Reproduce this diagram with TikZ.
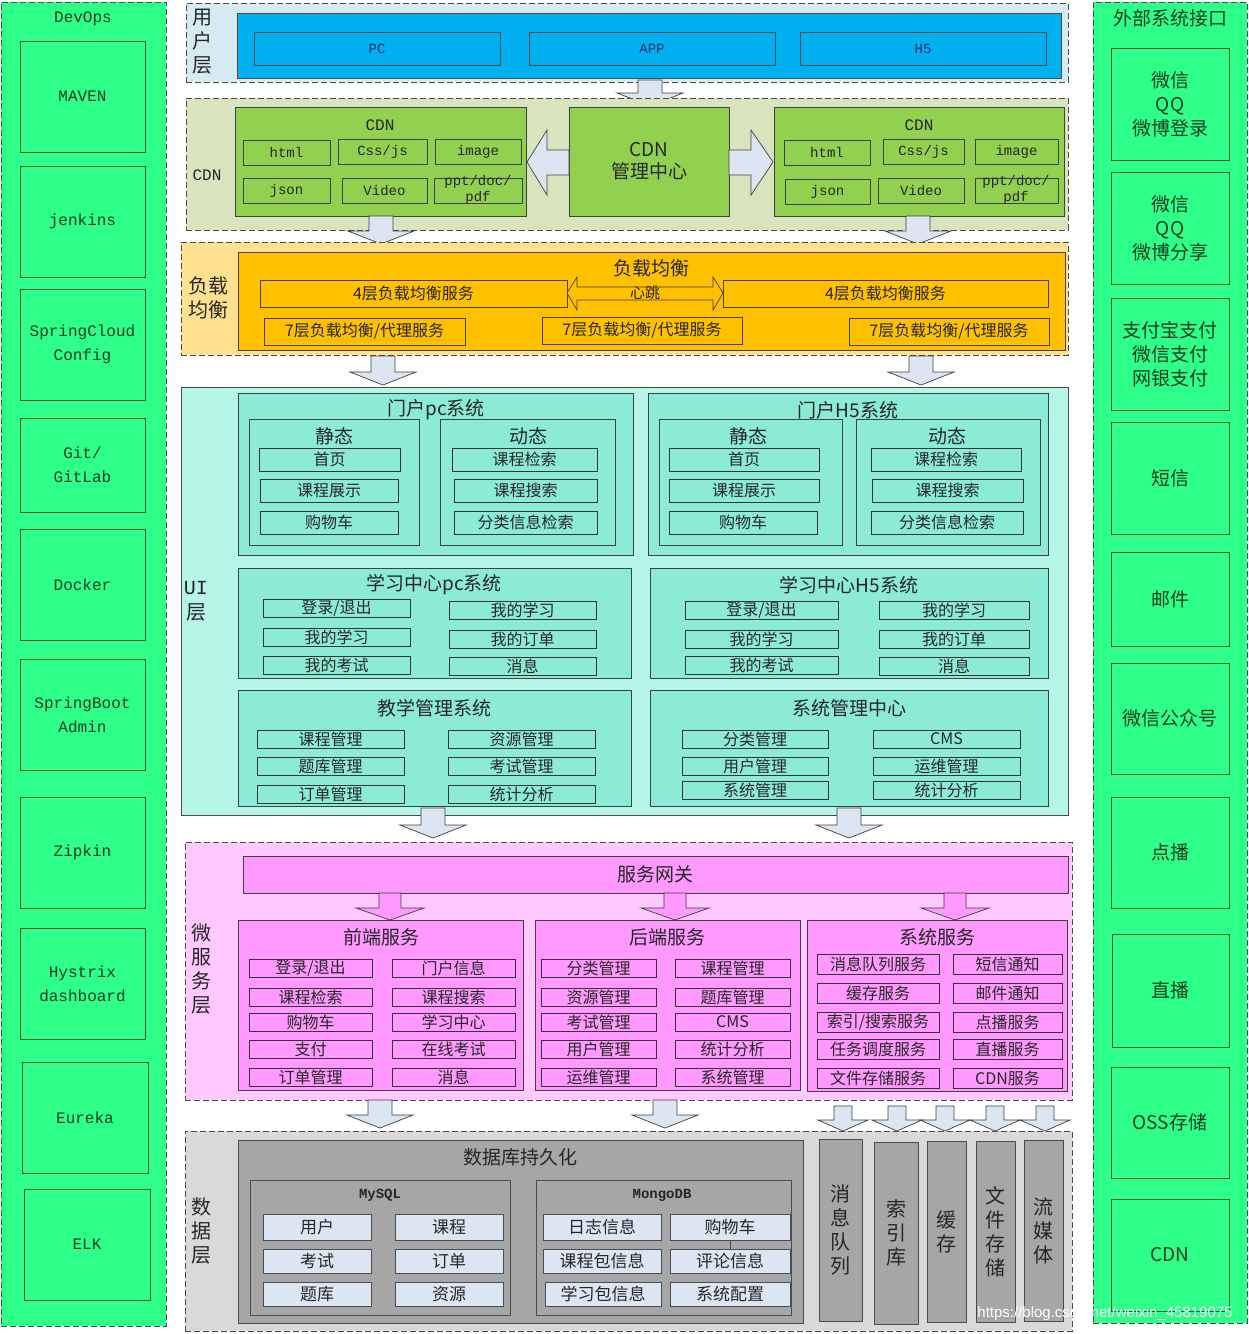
\documentclass[tikz,border=0pt]{standalone}
\usepackage{fontspec}
\setmainfont{Noto Sans CJK SC}
\newfontfamily\lat{Liberation Mono}
\newfontfamily\wmf{Liberation Sans}
\definecolor{dgreen}{HTML}{2EFF88}
\definecolor{gline}{HTML}{1F5A36}
\definecolor{gtxt}{HTML}{123D22}
\definecolor{ubg}{HTML}{D5EBF1}
\definecolor{ublue}{HTML}{00B0F0}
\definecolor{utxt}{HTML}{1F2F6F}
\definecolor{cdnbg}{HTML}{D7E4BD}
\definecolor{cdng}{HTML}{92D050}
\definecolor{lbbg}{HTML}{FFE08F}
\definecolor{lbor}{HTML}{FFC000}
\definecolor{uibg}{HTML}{B5F6E7}
\definecolor{uibox}{HTML}{8CEBD6}
\definecolor{msbg}{HTML}{FFC9FF}
\definecolor{mspink}{HTML}{FF99FF}
\definecolor{dbg}{HTML}{D9D9D9}
\definecolor{dbox}{HTML}{A6A6A6}
\definecolor{ditem}{HTML}{DCE6F2}
\definecolor{arrfill}{HTML}{DCE6F2}
\newcommand\fsS{\fontsize{14}{16}\selectfont}
\newcommand\fsM{\fontsize{16}{18}\selectfont}
\newcommand\fsN{\fontsize{17}{20}\selectfont}
\newcommand\fsL{\fontsize{16}{24}\selectfont}
\newcommand\fsG{\fontsize{19}{24}\selectfont}
\newcommand\fsT{\fontsize{19}{22}\selectfont}
\newcommand\fsV{\fontsize{20}{24}\selectfont}
\tikzset{
  lay/.style={draw=black!70, dash pattern=on 6pt off 3pt, line width=0.9pt, inner sep=0pt, outer sep=0pt},
  bxs/.style={draw=black!75, line width=0.8pt, inner sep=0pt, outer sep=0pt, align=center, text=black!85},
  gbox/.style={bxs, draw=gline, fill=dgreen, text=gtxt, font=\lat\fsL},
  gboxc/.style={bxs, draw=gline, fill=dgreen, text=gtxt, font=\fsG},
  ubox/.style={bxs, fill=ublue, draw=black!70, text=utxt, font=\lat\fsS},
  cbox/.style={bxs, fill=cdng, draw=black!75, font=\lat\fsS},
  lbox/.style={bxs, fill=lbor, draw=black!75, font=\fsM},
  uib/.style={bxs, fill=uibox, draw=black!75},
  uit/.style={bxs, fill=uibox, draw=black!80, font=\fsM},
  msb/.style={bxs, fill=mspink, draw=black!75},
  mst/.style={bxs, fill=mspink, draw=black!80, font=\fsM},
  dbx/.style={bxs, fill=dbox, draw=black!70},
  dit/.style={bxs, fill=ditem, draw=black!70, font=\fsN},
  ttl/.style={inner sep=0pt, text=black!85, font=\fsT},
  vlab/.style={inner sep=0pt, align=center, text=black!85, font=\fsV},
  arrl/.style={draw=black!75, line width=0.7pt, line join=miter},
}
\newcommand\bx[7]{\node[#2,anchor=north west,minimum width={(#5-#3)*1pt},minimum height={(#6-#4)*1pt}] (#1) at (#3,#4) {#7};}
% fill, cx, ytop, ybot, shaft half, head half, head length
\newcommand\darr[7]{\draw[arrl, fill=#1] ({#2-#5},#3) -- ({#2+#5},#3) -- ({#2+#5},{#4-#7}) -- ({#2+#6},{#4-#7}) -- (#2,#4) -- ({#2-#6},{#4-#7}) -- ({#2-#5},{#4-#7}) -- cycle;}
\begin{document}
\begin{tikzpicture}[x=1pt,y=-1pt]
\useasboundingbox (0,0) rectangle (1249,1334);
\fill[white] (0,0) rectangle (1249,1334);

% ===== DevOps column =====
\bx{devops}{lay, fill=dgreen}{1}{2}{166}{1326}{}
\node[inner sep=0pt, text=gtxt, font=\lat\fsL] (devopsT) at (83,19) {DevOps};
\bx{maven}{gbox}{20}{41}{145}{152}{MAVEN}
\bx{jenkins}{gbox}{20}{166}{145}{277}{jenkins}
\bx{scc}{gbox}{20}{289}{145}{400}{SpringCloud\\Config}
\bx{git}{gbox}{20}{418}{145}{512}{Git/\\GitLab}
\bx{docker}{gbox}{20}{529}{145}{640}{Docker}
\bx{sba}{gbox}{20}{659}{145}{770}{SpringBoot\\Admin}
\bx{zipkin}{gbox}{20}{797}{145}{908}{Zipkin}
\bx{hystrix}{gbox}{20}{928}{145}{1039}{Hystrix\\dashboard}
\bx{eureka}{gbox}{22}{1062}{148}{1173}{Eureka}
\bx{elk}{gbox}{24}{1189}{150}{1300}{ELK}

% ===== External column =====
\bx{ext}{lay, fill=dgreen}{1093}{2}{1247}{1323}{}
\node[inner sep=0pt, text=gtxt, font=\fsG] (extT) at (1170,18) {外部系统接口};
\bx{elogin}{gboxc}{1111}{48}{1229}{160}{微信\\QQ\\微博登录}
\bx{eshare}{gboxc}{1111}{172}{1229}{284}{微信\\QQ\\微博分享}
\bx{epay}{gboxc}{1111}{298}{1229}{410}{支付宝支付\\微信支付\\网银支付}
\bx{esms}{gboxc}{1111}{422}{1229}{534}{短信}
\bx{email}{gboxc}{1111}{552}{1229}{646}{邮件}
\bx{ewx}{gboxc}{1111}{663}{1229}{774}{微信公众号}
\bx{evod}{gboxc}{1111}{797}{1229}{908}{点播}
\bx{elive}{gboxc}{1112}{934}{1229}{1047}{直播}
\bx{eoss}{gboxc}{1111}{1067}{1229}{1178}{OSS存储}
\bx{ecdn}{gboxc}{1111}{1199}{1229}{1311}{CDN}

% ===== User layer =====
\bx{ulay}{lay, fill=ubg}{186}{3}{1068}{82}{}
\node[vlab] (ulab) at (202,42) {用\\户\\层};
\bx{uin}{bxs, fill=ublue, draw=black!70}{237}{13}{1061}{78}{}
\bx{upc}{ubox}{254}{32}{500}{65}{PC}
\bx{uapp}{ubox}{529}{32}{775}{65}{APP}
\bx{uh5}{ubox}{800}{32}{1046}{65}{H5}
\darr{arrfill}{650}{80}{106}{12}{33}{13}

% ===== CDN layer =====
\bx{clay}{lay, fill=cdnbg}{186}{98}{1068}{230}{}
\node[inner sep=0pt, text=black!85, font=\lat\fsL] (clab) at (207,175) {CDN};
\bx{cdnL}{bxs, fill=cdng}{235}{107}{526}{216}{}
\node[ttl, font=\lat\fsL] (cdnLT) at (380,125) {CDN};
\bx{cl1}{cbox}{243}{140}{330}{165}{html}
\bx{cl2}{cbox}{338}{139}{427}{164}{Css/js}
\bx{cl3}{cbox}{435}{139}{521}{164}{image}
\bx{cl4}{cbox}{243}{178}{330}{203}{json}
\bx{cl5}{cbox}{342}{178}{427}{203}{Video}
\bx{cl6}{cbox}{434}{178}{522}{203}{}
\node[inner sep=0pt, align=center, text=black!85, font=\lat\fsS] (cl6t) at (478,190) {ppt/doc/\\pdf};
\bx{cdnM}{bxs, fill=cdng, font=\fsT}{569}{107}{729}{216}{CDN\\管理中心}
\bx{cdnR}{bxs, fill=cdng}{774}{107}{1064}{216}{}
\node[ttl, font=\lat\fsL] (cdnRT) at (919,125) {CDN};
\bx{cr1}{cbox}{784}{140}{870}{165}{html}
\bx{cr2}{cbox}{883}{139}{964}{164}{Css/js}
\bx{cr3}{cbox}{975}{139}{1058}{164}{image}
\bx{cr4}{cbox}{785}{179}{870}{204}{json}
\bx{cr5}{cbox}{878}{178}{964}{203}{Video}
\bx{cr6}{cbox}{975}{178}{1058}{203}{}
\node[inner sep=0pt, align=center, text=black!85, font=\lat\fsS] (cr6t) at (1016,190) {ppt/doc/\\pdf};
\draw[arrl, fill=arrfill] (cdnM.west |- 0,150) -- (547,150) -- (547,130) -- (527,162) -- (547,195) -- (547,175) -- (cdnM.west |- 0,175) -- cycle;
\draw[arrl, fill=arrfill] (cdnM.east |- 0,150) -- (751,150) -- (751,130) -- (773,162) -- (751,195) -- (751,175) -- (cdnM.east |- 0,175) -- cycle;
\darr{arrfill}{381}{216}{244}{12}{33}{13}
\darr{arrfill}{918}{216}{244}{12}{33}{13}

% ===== Load balancing layer =====
\bx{llay}{lay, fill=lbbg}{181}{242}{1068}{355}{}
\node[vlab] (llab) at (208,298) {负载\\均衡};
\bx{lin}{bxs, fill=lbor}{238}{252}{1065}{350}{}
\node[ttl] (linT) at (651,268) {负载均衡};
\bx{l4a}{lbox}{260}{280}{567}{307}{4层负载均衡服务}
\bx{l4b}{lbox}{723}{280}{1048}{307}{4层负载均衡服务}
\draw[arrl, fill=lbor] (l4a.east |- 0,293) -- (577,277) -- (577,287) -- (713,287) -- (713,277) -- (l4b.west |- 0,293) -- (713,310) -- (713,300) -- (577,300) -- (577,310) -- cycle;
\node[inner sep=0pt, text=black!85, font=\fontsize{15}{17}\selectfont] (hb) at (645,293) {心跳};
\bx{l7a}{lbox}{264}{318}{465}{345}{7层负载均衡/代理服务}
\bx{l7b}{lbox}{542}{317}{742}{344}{7层负载均衡/代理服务}
\bx{l7c}{lbox}{849}{318}{1049}{345}{7层负载均衡/代理服务}
\darr{arrfill}{383}{356}{385}{12}{33}{13}
\darr{arrfill}{921}{356}{385}{12}{33}{13}

% ===== UI layer =====
\bx{uilay}{bxs, fill=uibg, draw=black!70}{181}{387}{1068}{815}{}
\node[vlab, font=\lat\fsV] (uilab) at (196,588) {UI};
\node[vlab] (uilab2) at (196,612) {层};
% portal pc
\bx{ppc}{uib}{238}{393}{633}{555}{}
\node[ttl] (ppcT) at (436,410) {门户pc系统};
\bx{ppcS}{uib}{249}{419}{419}{545}{}
\node[ttl] (ppcST) at (334,436) {静态};
\bx{ppcS1}{uit}{259}{448}{400}{471}{首页}
\bx{ppcS2}{uit}{260}{479}{398}{502}{课程展示}
\bx{ppcS3}{uit}{260}{511}{398}{534}{购物车}
\bx{ppcD}{uib}{440}{419}{615}{545}{}
\node[ttl] (ppcDT) at (528,436) {动态};
\bx{ppcD1}{uit}{452}{448}{597}{471}{课程检索}
\bx{ppcD2}{uit}{454}{479}{597}{502}{课程搜索}
\bx{ppcD3}{uit}{454}{511}{597}{534}{分类信息检索}
% portal h5
\bx{ph5}{uib}{648}{393}{1048}{555}{}
\node[ttl] (ph5T) at (848,410) {门户H5系统};
\bx{ph5S}{uib}{659}{419}{842}{545}{}
\node[ttl] (ph5ST) at (748,436) {静态};
\bx{ph5S1}{uit}{669}{448}{819}{471}{首页}
\bx{ph5S2}{uit}{669}{479}{819}{502}{课程展示}
\bx{ph5S3}{uit}{669}{511}{817}{534}{购物车}
\bx{ph5D}{uib}{856}{419}{1040}{545}{}
\node[ttl] (ph5DT) at (947,436) {动态};
\bx{ph5D1}{uit}{871}{448}{1021}{471}{课程检索}
\bx{ph5D2}{uit}{872}{479}{1023}{502}{课程搜索}
\bx{ph5D3}{uit}{871}{511}{1023}{534}{分类信息检索}
% study pc
\bx{spc}{uib}{238}{568}{631}{678}{}
\node[ttl] (spcT) at (434,585) {学习中心pc系统};
\bx{spc1}{uit}{263}{599}{410}{617}{登录/退出}
\bx{spc2}{uit}{263}{628}{410}{646}{我的学习}
\bx{spc3}{uit}{263}{656}{410}{674}{我的考试}
\bx{spc4}{uit}{449}{601}{596}{619}{我的学习}
\bx{spc5}{uit}{449}{630}{596}{648}{我的订单}
\bx{spc6}{uit}{449}{657}{596}{675}{消息}
% study h5
\bx{sh5}{uib}{650}{568}{1048}{678}{}
\node[ttl] (sh5T) at (849,585) {学习中心H5系统};
\bx{sh51}{uit}{685}{601}{838}{619}{登录/退出}
\bx{sh52}{uit}{685}{630}{838}{648}{我的学习}
\bx{sh53}{uit}{685}{656}{838}{674}{我的考试}
\bx{sh54}{uit}{879}{601}{1029}{619}{我的学习}
\bx{sh55}{uit}{879}{630}{1029}{648}{我的订单}
\bx{sh56}{uit}{879}{657}{1029}{675}{消息}
% teaching
\bx{tch}{uib}{238}{690}{631}{806}{}
\node[ttl] (tchT) at (434,708) {教学管理系统};
\bx{tch1}{uit}{257}{730}{404}{748}{课程管理}
\bx{tch2}{uit}{257}{757}{404}{775}{题库管理}
\bx{tch3}{uit}{257}{785}{404}{803}{订单管理}
\bx{tch4}{uit}{448}{730}{595}{748}{资源管理}
\bx{tch5}{uit}{448}{757}{595}{775}{考试管理}
\bx{tch6}{uit}{448}{785}{595}{803}{统计分析}
% sys mgmt
\bx{smc}{uib}{650}{690}{1048}{806}{}
\node[ttl] (smcT) at (849,708) {系统管理中心};
\bx{smc1}{uit}{682}{730}{828}{748}{分类管理}
\bx{smc2}{uit}{682}{757}{828}{775}{用户管理}
\bx{smc3}{uit}{682}{781}{828}{799}{系统管理}
\bx{smc4}{uit}{873}{730}{1020}{748}{CMS}
\bx{smc5}{uit}{873}{757}{1020}{775}{运维管理}
\bx{smc6}{uit}{873}{781}{1020}{799}{统计分析}
\darr{arrfill}{433}{808}{838}{12}{33}{13}
\darr{arrfill}{849}{808}{838}{12}{33}{13}

% ===== Microservice layer =====
\bx{mslay}{lay, fill=msbg}{185}{842}{1072}{1100}{}
\node[vlab] (mslab) at (201,969) {微\\服\\务\\层};
\bx{gw}{msb, font=\fsT}{243}{856}{1068}{893}{服务网关}
\darr{mspink}{390}{893}{920}{11}{34}{12}
\darr{mspink}{675}{893}{920}{11}{34}{12}
\darr{mspink}{955}{893}{920}{11}{34}{12}
% front
\bx{fe}{msb}{238}{920}{523}{1090}{}
\node[ttl] (feT) at (381,937) {前端服务};
\bx{fe1}{mst}{249}{959}{372}{977}{登录/退出}
\bx{fe2}{mst}{249}{988}{372}{1006}{课程检索}
\bx{fe3}{mst}{249}{1013}{372}{1031}{购物车}
\bx{fe4}{mst}{249}{1040}{372}{1058}{支付}
\bx{fe5}{mst}{249}{1068}{372}{1086}{订单管理}
\bx{fe6}{mst}{392}{959}{515}{977}{门户信息}
\bx{fe7}{mst}{392}{988}{515}{1006}{课程搜索}
\bx{fe8}{mst}{392}{1013}{515}{1031}{学习中心}
\bx{fe9}{mst}{392}{1040}{515}{1058}{在线考试}
\bx{fe10}{mst}{392}{1068}{515}{1086}{消息}
% back
\bx{be}{msb}{535}{920}{800}{1090}{}
\node[ttl] (beT) at (667,937) {后端服务};
\bx{be1}{mst}{541}{959}{656}{977}{分类管理}
\bx{be2}{mst}{541}{988}{656}{1006}{资源管理}
\bx{be3}{mst}{541}{1013}{656}{1031}{考试管理}
\bx{be4}{mst}{541}{1040}{656}{1058}{用户管理}
\bx{be5}{mst}{541}{1068}{656}{1086}{运维管理}
\bx{be6}{mst}{675}{959}{790}{977}{课程管理}
\bx{be7}{mst}{675}{988}{790}{1006}{题库管理}
\bx{be8}{mst}{675}{1013}{790}{1031}{CMS}
\bx{be9}{mst}{675}{1040}{790}{1058}{统计分析}
\bx{be10}{mst}{675}{1068}{790}{1086}{系统管理}
% system
\bx{ss}{msb}{807}{920}{1067}{1091}{}
\node[ttl] (ssT) at (937,937) {系统服务};
\bx{ss1}{mst}{817}{954}{939}{974}{消息队列服务}
\bx{ss2}{mst}{817}{983}{939}{1003}{缓存服务}
\bx{ss3}{mst}{817}{1012}{939}{1032}{索引/搜索服务}
\bx{ss4}{mst}{817}{1039}{939}{1059}{任务调度服务}
\bx{ss5}{mst}{817}{1068}{939}{1088}{文件存储服务}
\bx{ss6}{mst}{953}{954}{1062}{974}{短信通知}
\bx{ss7}{mst}{953}{983}{1062}{1003}{邮件通知}
\bx{ss8}{mst}{953}{1012}{1062}{1032}{点播服务}
\bx{ss9}{mst}{953}{1039}{1062}{1059}{直播服务}
\bx{ss10}{mst}{953}{1068}{1062}{1088}{CDN服务}
\darr{arrfill}{380}{1100}{1128}{12}{33}{13}
\darr{arrfill}{665}{1100}{1128}{12}{33}{13}
\darr{arrfill}{843}{1106}{1131}{9}{25}{11}
\darr{arrfill}{897}{1106}{1131}{9}{25}{11}
\darr{arrfill}{945}{1106}{1131}{9}{25}{11}
\darr{arrfill}{995}{1106}{1131}{9}{25}{11}
\darr{arrfill}{1045}{1106}{1131}{9}{25}{11}

% ===== Data layer =====
\bx{dlay}{lay, fill=dbg}{185}{1131}{1072}{1331}{}
\node[vlab] (dlab) at (201,1231) {数\\据\\层};
\bx{dbp}{dbx}{238}{1140}{803}{1323}{}
\node[ttl] (dbpT) at (520,1157) {数据库持久化};
\bx{mysql}{dbx}{250}{1180}{510}{1315}{}
\node[inner sep=0pt, text=black!85, font=\lat\bfseries\fsS] (mysqlT) at (380,1195) {MySQL};
\bx{my1}{dit}{263}{1214}{371}{1240}{用户}
\bx{my2}{dit}{263}{1249}{371}{1273}{考试}
\bx{my3}{dit}{263}{1282}{371}{1306}{题库}
\bx{my4}{dit}{395}{1214}{503}{1240}{课程}
\bx{my5}{dit}{395}{1249}{503}{1273}{订单}
\bx{my6}{dit}{395}{1282}{503}{1306}{资源}
\bx{mongo}{dbx}{536}{1180}{791}{1315}{}
\node[inner sep=0pt, text=black!85, font=\lat\bfseries\fsS] (mongoT) at (662,1195) {MongoDB};
\bx{mg1}{dit}{543}{1214}{661}{1240}{日志信息}
\bx{mg2}{dit}{543}{1249}{661}{1273}{课程包信息}
\bx{mg3}{dit}{545}{1282}{661}{1306}{学习包信息}
\bx{mg4}{dit}{670}{1214}{790}{1240}{购物车}
\bx{mg5}{dit}{670}{1249}{790}{1273}{评论信息}
\bx{mg6}{dit}{670}{1282}{790}{1306}{系统配置}
\draw[black!70, line width=0.7pt] (mg4.south) -- (mg5.north);
\bx{vmq}{dbx, font=\fsV}{819}{1139}{862}{1321}{消\\息\\队\\列}
\bx{vidx}{dbx, font=\fsV}{874}{1142}{918}{1324}{索\\引\\库}
\bx{vcache}{dbx, font=\fsV}{927}{1141}{966}{1322}{缓\\存}
\bx{vfile}{dbx, font=\fsV}{976}{1141}{1015}{1322}{文\\件\\存\\储}
\bx{vmedia}{dbx, font=\fsV}{1024}{1140}{1063}{1321}{流\\媒\\体}

% watermark
\node[inner sep=0pt, text=white, font=\wmf\fontsize{15}{17}\selectfont] (wm) at (1105,1314) {https://blog.csdn.net/weixin\_45819075};
\end{tikzpicture}
\end{document}
